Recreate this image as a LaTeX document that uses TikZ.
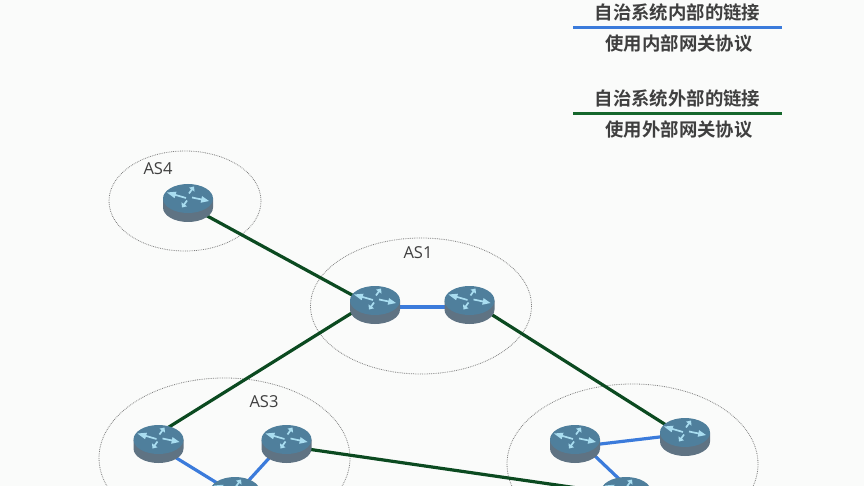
\documentclass[tikz,border=0pt]{standalone}
\usepackage{fontspec}
\setmainfont{Open Sans}
\newfontfamily\cjk{Noto Sans CJK SC}[BoldFont={Noto Sans CJK SC Bold}]
\usetikzlibrary{calc}
\definecolor{pagebg}{HTML}{FAFBFA}
\definecolor{inlink}{HTML}{3B7BDB}
\definecolor{outlink}{HTML}{0B4A20}
\definecolor{outkey}{HTML}{15672C}
\definecolor{routertop}{HTML}{4F7F9C}
\definecolor{routerside}{HTML}{5F7383}
\definecolor{routerarrow}{HTML}{A9DDF0}
\definecolor{labelgray}{HTML}{3F3F3F}
\tikzset{
    as cloud/.style={draw=black!50, densely dotted, line width=0.8pt},
    inner link/.style={draw=inlink, line width=3.2pt},
    outer link/.style={draw=outlink, line width=3.2pt},
    as label/.style={text=labelgray, font=\fontsize{16.5}{16.5}\selectfont},
    key label/.style={text=labelgray, font=\cjk\bfseries\fontsize{18.4}{18.4}\selectfont},
    router arrow/.style={draw=routerarrow, line width=1.7pt},
    pics/router/.style={code={
        \fill[routerside] (-25,0) -- (-25,9) arc (180:0:25 and 14.5) -- (25,0) -- cycle;
        \fill[routertop] (0,0) ellipse (25 and 14.5);
        \foreach \tx/\ty/\hx/\hy in {-2/-0.5/-21/-6, 4/-1/21/2.5, 1/-5/6/-12, -1/2/-6/9} {
            \draw[router arrow] (\tx,\ty) -- ($(\tx,\ty)!0.7!(\hx,\hy)$);
            \fill[routerarrow] (\hx,\hy) -- ($(\tx,\ty)!0.55!(\hx,\hy)!3.4pt!90:(\hx,\hy)$)
                -- ($(\tx,\ty)!0.55!(\hx,\hy)!3.4pt!-90:(\hx,\hy)$) -- cycle;
        }
    }}
}

\begin{document}
\begin{tikzpicture}[x=1pt, y=-1pt]
    \useasboundingbox (0,0) rectangle (864,486);
    \clip (0,0) rectangle (864,486);
    \fill[pagebg] (0,0) rectangle (864,486);

    % Autonomous systems
    \draw[as cloud] (185,201) ellipse (76 and 50);
    \draw[as cloud] (421,306) ellipse (110.5 and 68);
    \draw[as cloud] (224.5,458) ellipse (125.5 and 80);
    \draw[as cloud] (632.5,464) ellipse (125.5 and 80);
    \node[as label] (as4) at (158,169) {AS4};
    \node[as label] (as1) at (418,253) {AS1};
    \node[as label] (as3) at (264,402) {AS3};

    % Router positions
    \foreach \name/\x/\y in {as4a/188/198.5, as1a/375/300.5, as1b/469.5/300.5,
        as3a/158.5/439.5, as3b/286.5/439.5, as3c/235/491.5,
        as2a/575/439.5, as2b/685/432.5, as2c/626/491.5}
        \coordinate (\name) at (\x,\y);

    % Links
    \foreach \a/\oa/\b/\ob in {as4a/7/as1a/7, as1b/0/as2b/4.5, as1a/-2/as3a/-6, as3b/6.5/as2c/3.5}
        \draw[outer link] ($(\a)+(0,\oa)$) -- ($(\b)+(0,\ob)$);
    \foreach \a/\oa/\b/\ob in {as1a/6.5/as1b/6.5, as3a/7.5/as3c/2.5, as3b/-0.5/as3c/4,
        as2a/7.5/as2b/1.5, as2a/-2.5/as2c/-6}
        \draw[inner link] ($(\a)+(0,\oa)$) -- ($(\b)+(0,\ob)$);

    % Routers
    \foreach \name in {as4a, as1a, as1b, as3a, as3b, as3c, as2a, as2b, as2c}
        \pic at (\name) {router};

    % Key
    \node[key label] (inner title) at (677.5,12) {自治系统内部的链接};
    \node[key label] (inner note) at (679,44) {使用内部网关协议};
    \node[key label] (outer title) at (677.5,98) {自治系统外部的链接};
    \node[key label] (outer note) at (679,130) {使用外部网关协议};
    \draw[inner link] (573,27.5) -- (782,27.5);
    \draw[draw=outkey, line width=3.2pt] (573,113.5) -- (782,113.5);
\end{tikzpicture}
\end{document}
